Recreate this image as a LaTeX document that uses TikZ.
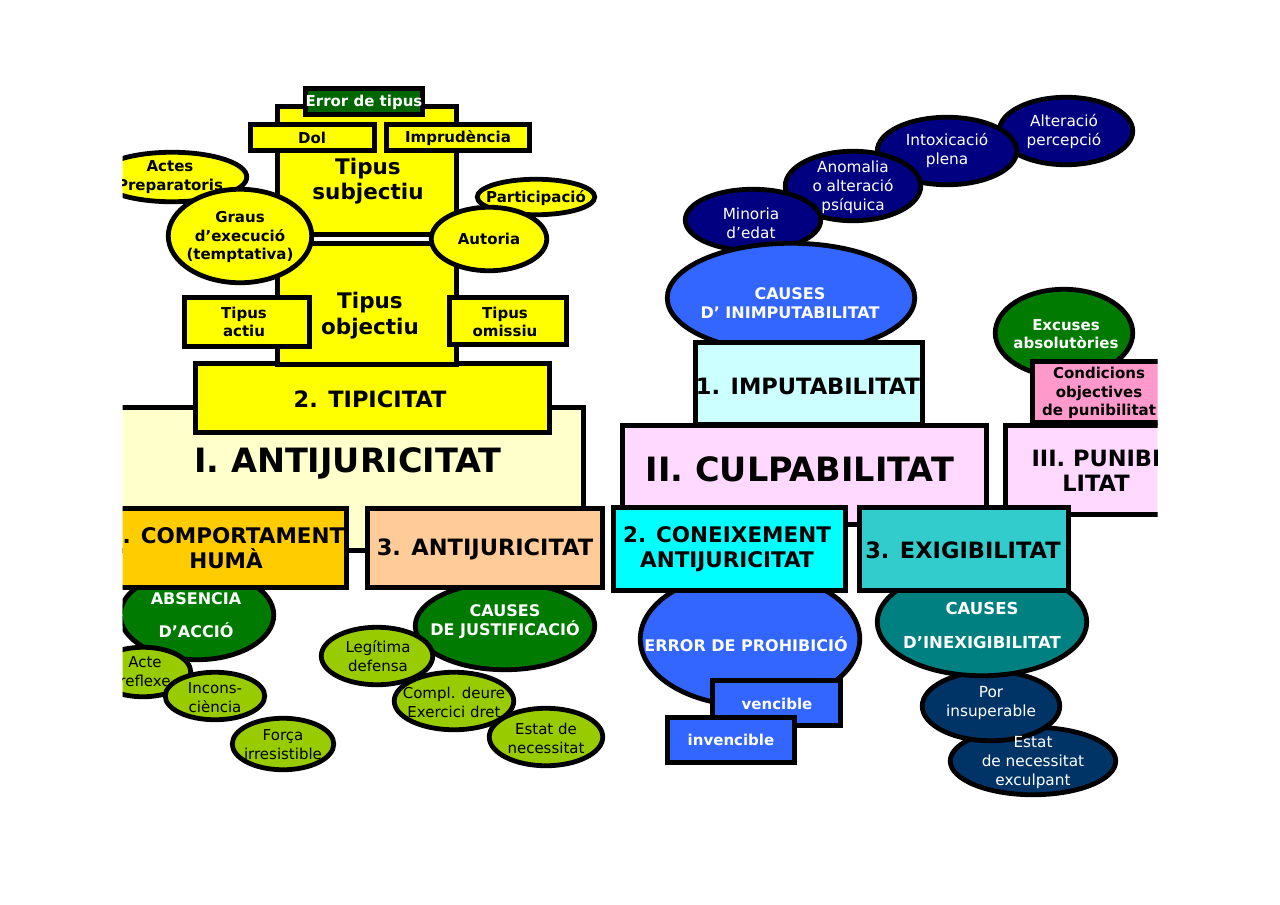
\documentclass[tikz,border=0pt]{standalone}
\usepackage{fontspec}
\setmainfont{DejaVu Sans}
\usetikzlibrary{shapes.geometric}
\definecolor{cYel}{HTML}{FFFF00}
\definecolor{cPale}{HTML}{FFFFCC}
\definecolor{cOrange}{HTML}{FFCC00}
\definecolor{cPeach}{HTML}{FFCC99}
\definecolor{cGreen}{HTML}{007A00}
\definecolor{cDGreen}{HTML}{006600}
\definecolor{cLime}{HTML}{99CC00}
\definecolor{cBlue}{HTML}{3366FF}
\definecolor{cNavy}{HTML}{000080}
\definecolor{cDNavy}{HTML}{003366}
\definecolor{cPCyan}{HTML}{CCFFFF}
\definecolor{cLav}{HTML}{FFD9FF}
\definecolor{cPink}{HTML}{FF99CC}
\definecolor{cCyan}{HTML}{00FFFF}
\definecolor{cTealL}{HTML}{33CCCC}
\definecolor{cTeal}{HTML}{008080}
\newcommand\myfs[2]{\fontsize{#1}{#2}\selectfont}
\begin{document}
\begin{tikzpicture}[x=1pt,y=-1pt,
  bx/.style={draw=black,line width=4.8pt,rectangle,inner sep=0pt},
  el/.style={draw=black,line width=4.8pt,ellipse,inner sep=0pt},
  txt/.style={align=center,inner sep=0pt},
  tb/.style={txt,font=\myfs{15}{18.5}\bfseries},
  tw/.style={txt,text=white,font=\myfs{15}{18.5}\bfseries},
  tcw/.style={txt,text=white,font=\myfs{16}{19}\bfseries},
  tr/.style={txt,font=\myfs{15}{19}},
  trw/.style={txt,text=white,font=\myfs{15.3}{19}},
  tbig/.style={txt,font=\myfs{21.5}{25}\bfseries},
  tbigs/.style={txt,font=\myfs{22.5}{25}\bfseries},
  thuge/.style={txt,font=\myfs{33.5}{36}\bfseries}]
\useasboundingbox[fill=white] (0,0) rectangle (1280,905);
\begin{scope}
\clip (122.5,0) rectangle (1157.5,905);
% ---------- left: antijuricitat ----------
\node[bx,fill=cPale,minimum width=471.5pt,minimum height=143.5pt] (antijB) at (348,479) {};
\node[bx,fill=cYel,minimum width=354.5pt,minimum height=69.5pt] (tipic) at (372.5,398) {};
\node[bx,fill=cYel,minimum width=179.5pt,minimum height=128.5pt] (subj) at (367,170.5) {};
\node[bx,fill=cYel,minimum width=179.5pt,minimum height=121.5pt] (obj) at (367,304) {};
\node[bx,fill=cDGreen,minimum width=117.5pt,minimum height=26.5pt] (errtip) at (364,101.5) {};
\node[bx,fill=cYel,minimum width=124.5pt,minimum height=26.5pt] (dol) at (312.5,137.5) {};
\node[bx,fill=cYel,minimum width=143.5pt,minimum height=26.5pt] (impr) at (458,137.5) {};
\node[el,fill=cYel,minimum width=149.5pt,minimum height=49.5pt] (actes) at (172,177) {};
\node[el,fill=cYel,minimum width=143.5pt,minimum height=93.5pt] (graus) at (240,236) {};
\node[el,fill=cYel,minimum width=117.5pt,minimum height=35.5pt] (partic) at (536,197) {};
\node[el,fill=cYel,minimum width=115.5pt,minimum height=63.5pt] (autor) at (489,239) {};
\node[bx,fill=cYel,minimum width=125.5pt,minimum height=49.5pt] (actiu) at (247,322) {};
\node[bx,fill=cYel,minimum width=117.5pt,minimum height=47.5pt] (omis) at (508,321) {};
\node[el,fill=cGreen,minimum width=153.5pt,minimum height=89.5pt] (absen) at (197,615) {};
\node[el,fill=cGreen,minimum width=179.5pt,minimum height=87.5pt] (causJ) at (505,626) {};
\node[bx,fill=cOrange,minimum width=241.5pt,minimum height=79.5pt] (comp) at (226,548) {};
\node[bx,fill=cPeach,minimum width=235.5pt,minimum height=79.5pt] (antij3) at (485,548) {};
\node[el,fill=cLime,minimum width=95.5pt,minimum height=49.5pt] (acte) at (143,672) {};
\node[el,fill=cLime,minimum width=99.5pt,minimum height=47.5pt] (incons) at (215,696) {};
\node[el,fill=cLime,minimum width=101.5pt,minimum height=51.5pt] (forca) at (283,744) {};
\node[el,fill=cLime,minimum width=111.5pt,minimum height=57.5pt] (legit) at (377,656) {};
\node[el,fill=cLime,minimum width=119.5pt,minimum height=57.5pt] (compl) at (454,701) {};
\node[el,fill=cLime,minimum width=113.5pt,minimum height=57.5pt] (estat) at (546,737) {};
% texts left
\node[tw] (errtipT) at (364,102) {Error de tipus};
\node[tb] (dolT) at (312,138) {Dol};
\node[tb] (imprT) at (458,138) {Imprudència};
\node[txt,font=\myfs{21.5}{25}\bfseries] (subjT) at (368,181) {Tipus\\subjectiu};
\node[tb] (actesT) at (170,177) {Actes\\Preparatoris};
\node[tb] (grausT) at (240,237) {Graus\\d’execució\\(temptativa)};
\node[tb] (particT) at (536,198) {Participació};
\node[tb] (autorT) at (489,239) {Autoria};
\node[txt,font=\myfs{21.5}{26}\bfseries] (objT) at (370,316) {Tipus\\objectiu};
\node[tb] (actiuT) at (244,322) {Tipus\\actiu};
\node[tb] (omisT) at (505,322) {Tipus\\omissiu};
\node[txt,font=\myfs{22.5}{24}\bfseries] (tipicT) at (370,399) {2. TIPICITAT};
\node[thuge] (antijBT) at (348,463) {I. ANTIJURICITAT};
\node[tbig] (compT) at (226,548) {1. COMPORTAMENT\\HUMÀ};
\node[tbigs] (antij3T) at (485,549) {3. ANTIJURICITAT};
\node[txt,text=white,font=\myfs{16}{33}\bfseries] (absenT) at (196,615) {ABSENCIA\\D’ACCIÓ};
\node[tr] (acteT) at (145,672) {Acte\\reflexe};
\node[tr] (inconsT) at (215,698) {Incons-\\ciència};
\node[tr] (forcaT) at (283,745) {Força\\irresistible};
\node[tcw] (causJT) at (505,622) {CAUSES\\DE JUSTIFICACIÓ};
\node[tr] (legitT) at (378,656) {Legítima\\defensa};
\node[tr] (complT) at (454,702) {Compl. deure\\Exercici dret};
\node[tr] (estatT) at (546,738) {Estat de\\necessitat};
% ---------- right: culpabilitat ----------
\node[el,fill=cNavy,minimum width=133.5pt,minimum height=67.5pt] (alter) at (1066,131) {};
\node[el,fill=cNavy,minimum width=139.5pt,minimum height=67.5pt] (intox) at (947,151) {};
\node[el,fill=cNavy,minimum width=135.5pt,minimum height=69.5pt] (anom) at (853,186) {};
\node[el,fill=cNavy,minimum width=135.5pt,minimum height=61.5pt] (minor) at (753,220) {};
\node[el,fill=cBlue,minimum width=247.5pt,minimum height=109.5pt] (causI) at (791,298) {};
\node[bx,fill=cLav,minimum width=364.5pt,minimum height=99.5pt] (culp) at (804.5,475) {};
\node[bx,fill=cLav,minimum width=185.5pt,minimum height=89.5pt] (punib) at (1098,470) {};
\node[el,fill=cBlue,minimum width=219.5pt,minimum height=133.5pt] (errP) at (750,639) {};
\node[el,fill=cDNavy,minimum width=165.5pt,minimum height=67.5pt] (estX) at (1033,761) {};
\node[el,fill=cDNavy,minimum width=137.5pt,minimum height=69.5pt] (por) at (991,706) {};
\node[el,fill=cTeal,minimum width=209.5pt,minimum height=107.5pt] (causX) at (982,622) {};
\node[bx,fill=cCyan,minimum width=232.5pt,minimum height=83.5pt] (conex) at (729.5,549) {};
\node[bx,fill=cTealL,minimum width=209.5pt,minimum height=83.5pt] (exig) at (964,549) {};
\node[bx,fill=cPCyan,minimum width=227.5pt,minimum height=82.5pt] (imput) at (809,383.5) {};
\node[el,fill=cGreen,minimum width=137.5pt,minimum height=87.5pt] (excus) at (1064,333) {};
\node[bx,fill=cPink,minimum width=131.5pt,minimum height=61.5pt] (cond) at (1098,392) {};
\node[bx,fill=cBlue,minimum width=128.5pt,minimum height=45.5pt] (venc) at (776.5,703) {};
\node[bx,fill=cBlue,minimum width=127.5pt,minimum height=45.5pt] (invenc) at (731,740) {};
% texts right
\node[trw] (alterT) at (1064,131) {Alteració\\percepció};
\node[trw] (intoxT) at (947,150) {Intoxicació\\plena};
\node[trw] (anomT) at (853,187) {Anomalia\\o alteració\\psíquica};
\node[trw] (minorT) at (751,223) {Minoria\\d’edat};
\node[tcw] (causIT) at (790,303) {CAUSES\\D’ INIMPUTABILITAT};
\node[tbigs] (imputT) at (808,386) {1. IMPUTABILITAT};
\node[tw] (excusT) at (1066,334) {Excuses\\absolutòries};
\node[tb] (condT) at (1099,393) {Condicions\\objectives\\de punibilitat};
\node[thuge] (culpT) at (800,469) {II. CULPABILITAT};
\node[txt,font=\myfs{22.5}{25}\bfseries] (punibT) at (1096,471) {III. PUNIBI\\LITAT};
\node[tbig] (conexT) at (727,549) {2. CONEIXEMENT\\ANTIJURICITAT};
\node[tbigs] (exigT) at (963,550) {3. EXIGIBILITAT};
\node[txt,text=white,font=\myfs{16}{34}\bfseries] (errPT) at (746,644) {ERROR DE PROHIBICIÓ};
\node[tw] (vencT) at (777,704) {vencible};
\node[tw] (invencT) at (731,740) {invencible};
\node[txt,text=white,font=\myfs{16.5}{34}\bfseries] (causXT) at (982,625) {CAUSES\\D’INEXIGIBILITAT};
\node[trw] (porT) at (991,703) {Por\\insuperable};
\node[trw] (estXT) at (1033,763) {Estat\\de necessitat\\exculpant};
\end{scope}
\end{tikzpicture}
\end{document}
